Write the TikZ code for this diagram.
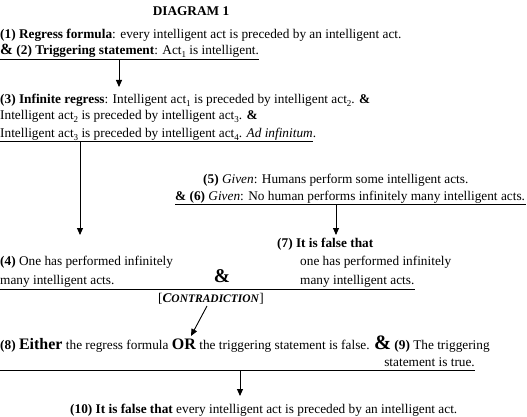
\documentclass[tikz,border=0pt]{standalone}
\usepackage{fontspec}
\setmainfont{Liberation Serif}
\usetikzlibrary{arrows.meta}
\newcommand{\mysub}[1]{\raisebox{-3pt}{\fontsize{9}{9}\selectfont #1}}
\begin{document}
\begin{tikzpicture}[x=1pt,y=-1pt,
  txt/.style={inner sep=0pt,anchor=base west,font=\fontsize{13.3}{15}\selectfont},
  uline/.style={line width=0.9pt},
  arr/.style={line width=0.9pt,-{Triangle[length=7pt,width=6pt]}}]
\useasboundingbox (0,0) rectangle (527,417);
\node[txt,anchor=base] (title) at (191,16) {\textbf{DIAGRAM 1}};
\node[txt] (l1) at (0,39) {\textbf{(1) Regress formula}: every intelligent act is preceded by an intelligent act.};
\node[txt] (l2) at (0,55) {{\fontsize{15.5}{15}\selectfont\textbf{\&}} \textbf{(2) Triggering statement}: Act\mysub{1} is intelligent.};
\coordinate (u2s) at (0,59); \coordinate (u2e) at (259,59);
\draw[uline] (u2s) -- (u2e);
\coordinate (a1s) at (119,59); \coordinate (a1e) at (119,87);
\draw[arr] (a1s) -- (a1e);
\node[txt] (l3) at (0,103) {\textbf{(3) Infinite regress}: Intelligent act\mysub{1} is preceded by intelligent act\mysub{2}. \textbf{\&}};
\node[txt] (l4) at (0,120) {Intelligent act\mysub{2} is preceded by intelligent act\mysub{3}. \textbf{\&}};
\node[txt] (l5) at (0,137) {Intelligent act\mysub{3} is preceded by intelligent act\mysub{4}. \textit{Ad infinitum}.};
\coordinate (u5s) at (0,141); \coordinate (u5e) at (313,141);
\draw[uline] (u5s) -- (u5e);
\coordinate (a2s) at (80,141); \coordinate (a2e) at (80,235);
\draw[arr] (a2s) -- (a2e);
\node[txt] (l6) at (203,183) {\textbf{(5)} \textit{Given}: Humans perform some intelligent acts.};
\node[txt] (l7) at (175,200) {\textbf{\&} \textbf{(6)} \textit{Given}: No human performs infinitely many intelligent acts.};
\coordinate (u7s) at (175,204); \coordinate (u7e) at (526,204);
\draw[uline] (u7s) -- (u7e);
\coordinate (a3s) at (336,204); \coordinate (a3e) at (336,235);
\draw[arr] (a3s) -- (a3e);
\node[txt] (l8) at (277,247) {\textbf{(7) It is false that}};
\node[txt] (l9a) at (0,265) {\textbf{(4)} One has performed infinitely};
\node[txt] (l9b) at (300,265) {one has performed infinitely};
\node[txt] (l10a) at (0,284) {many intelligent acts.};
\node[txt,anchor=base] (amp) at (222,282) {\fontsize{19.5}{19}\selectfont\textbf{\&}};
\node[txt] (l10b) at (300,284) {many intelligent acts.};
\coordinate (u10s) at (0,289); \coordinate (u10e) at (415,289);
\draw[uline] (u10s) -- (u10e);
\node[txt,anchor=base] (contra) at (211,302) {[\textbf{\textit{C{\fontsize{11.5}{11}\selectfont ONTRADICTION}}}]};
\coordinate (a4s) at (207,306); \coordinate (a4e) at (191,336);
\draw[arr] (a4s) -- (a4e);
\node[txt] (l11) at (0,349) {\textbf{(8)} {\fontsize{16}{16}\selectfont\textbf{Either}} the regress formula {\fontsize{16}{16}\selectfont\textbf{OR}} the triggering statement is false. {\fontsize{20.5}{20}\selectfont\textbf{\&}} \textbf{(9)} The triggering};
\node[txt,anchor=base east] (l12) at (475,366) {statement is true.};
\coordinate (u12s) at (0,370); \coordinate (u12e) at (475,370);
\draw[uline] (u12s) -- (u12e);
\coordinate (a5s) at (240,370); \coordinate (a5e) at (240,396);
\draw[arr] (a5s) -- (a5e);
\node[txt] (l13) at (70,413) {\textbf{(10) It is false that} every intelligent act is preceded by an intelligent act.};
\end{tikzpicture}
\end{document}
